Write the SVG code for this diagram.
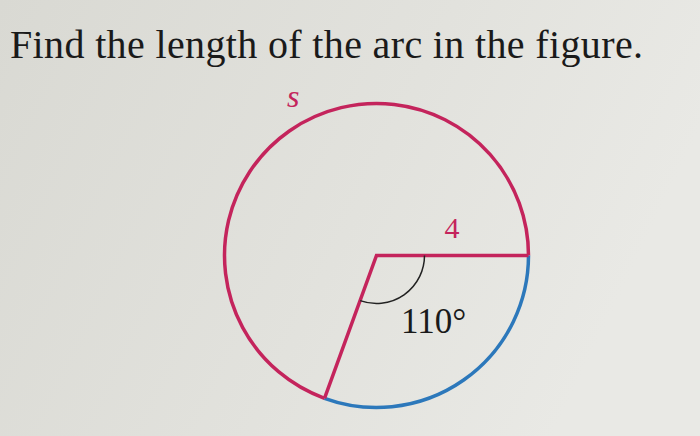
<svg xmlns="http://www.w3.org/2000/svg" width="700" height="436" viewBox="0 0 700 436">
  <defs>
    <linearGradient id="paper" x1="0" y1="0" x2="1" y2="0.3">
      <stop offset="0" stop-color="#d9d9d3"/>
      <stop offset="0.6" stop-color="#e2e2dd"/>
      <stop offset="1" stop-color="#e9e9e5"/>
    </linearGradient>
  </defs>
  <style>
    .title { font-family: "Liberation Serif", "Times New Roman", serif; font-size: 40px; fill: #1a1a1a; }
    .lbl { font-family: "Liberation Serif", "Times New Roman", serif; }
    .red { stroke: #c4245c; stroke-width: 3.5; fill: none; stroke-linejoin: miter; }
    .blue { stroke: #2c78bb; stroke-width: 3.5; fill: none; }
    .ang { stroke: #222; stroke-width: 1.5; fill: none; }
  </style>
  <rect x="0" y="0" width="700" height="436" fill="url(#paper)"/>
  <text class="title" x="10" y="58" textLength="633" lengthAdjust="spacing">Find the length of the arc in the figure.</text>
  <g id="connectors">
    <path id="arc-s" class="red" d="M 324.5 398.3 A 152 152 0 1 1 528.5 255.5"/>
    <path id="arc-minor" class="blue" d="M 528.5 255.5 A 152 152 0 0 1 324.5 398.3"/>
    <path id="radii" class="red" d="M 528.5 255.5 L 376.5 255.5 L 324.5 398.3"/>
    <path id="angle-mark" class="ang" d="M 424.5 255.5 A 48 48 0 0 1 360.1 300.6"/>
  </g>
  <g id="label-s"><text class="lbl" x="287" y="107" font-size="32" font-style="italic" fill="#c4245c">s</text></g>
  <g id="label-4"><text class="lbl" x="452" y="238" font-size="30" text-anchor="middle" fill="#c4245c">4</text></g>
  <g id="label-angle"><text class="lbl" x="401" y="333" font-size="35" fill="#1a1a1a">110°</text></g>
</svg>
